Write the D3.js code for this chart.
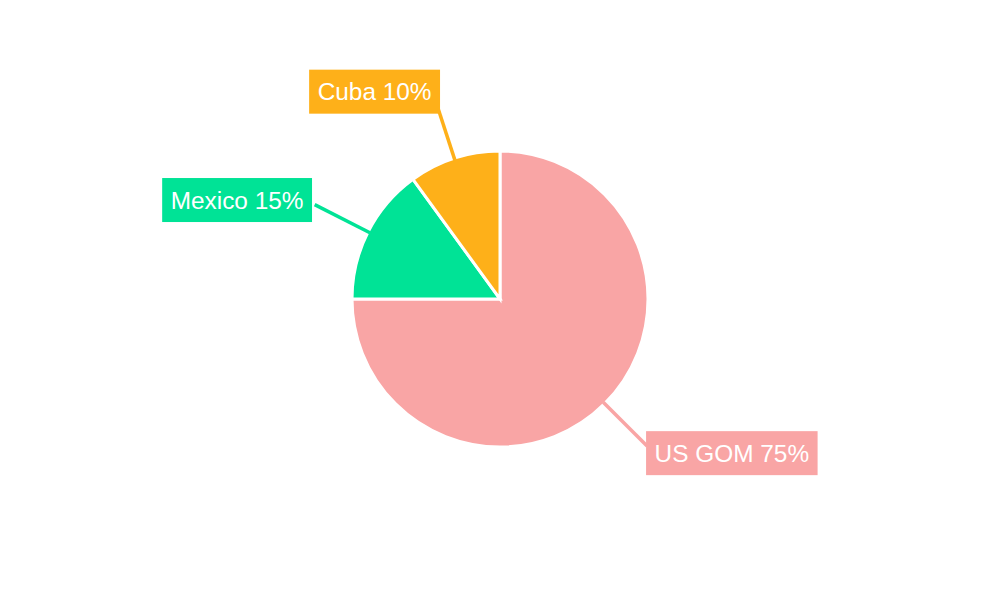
<!DOCTYPE html>
<html><head><meta charset="utf-8">
<script src="https://cdn.jsdelivr.net/npm/d3@7"></script>
<style>body{margin:0;background:#fff}svg{display:block}</style>
</head><body>
<svg id="c" width="1000" height="600"></svg>
<script>
const categories = ["US GOM", "Mexico", "Cuba"];
const values = [75, 15, 10];
const colors = ["#F9A5A5", "#00E396", "#FEB019"];

const svg = d3.select("#c");
const cx = 500, cy = 299, R = 148, R2 = 208;
const data = categories.map((c, i) => ({name: c, value: values[i], color: colors[i]}));
const pie = d3.pie().value(d => d.value).sort(null);
const arcs = pie(data);
const arc = d3.arc().innerRadius(0).outerRadius(R);
const g = svg.append("g").attr("transform", `translate(${cx},${cy})`);

g.selectAll("path.slice").data(arcs).join("path")
  .attr("class", "slice")
  .attr("d", arc)
  .attr("fill", d => d.data.color)
  .attr("stroke", "#fff")
  .attr("stroke-width", 3);

const total = d3.sum(values);
arcs.forEach(a => {
  const m = (a.startAngle + a.endAngle) / 2;
  const s = Math.sin(m), c = Math.cos(m);
  const x1 = s * (R - 2), y1 = -c * (R - 2);
  const x2 = s * R2, y2 = -c * R2;
  g.append("line").attr("x1", x1).attr("y1", y1).attr("x2", x2).attr("y2", y2)
    .attr("stroke", a.data.color).attr("stroke-width", 3.5);
  const label = `${a.data.name} ${Math.round(a.data.value / total * 100)}%`;
  const lg = g.append("g");
  const rect = lg.append("rect").attr("fill", a.data.color);
  const t = lg.append("text").text(label)
    .attr("font-family", "Liberation Sans, Arial, sans-serif")
    .attr("font-size", 24.4).attr("fill", "#fff");
  const tw = t.node().getComputedTextLength();
  const pad = 8.5, h = 44, w = tw + pad * 2;
  const left = s > 0 ? x2 - 1 : x2 - w - 9 + 14 * c;
  const top = y2 - h / 2 - 10 * c;
  rect.attr("x", left).attr("y", top).attr("width", w).attr("height", h);
  t.attr("x", left + pad).attr("y", top + h / 2 + 8.5);
});
</script>
</body></html>
